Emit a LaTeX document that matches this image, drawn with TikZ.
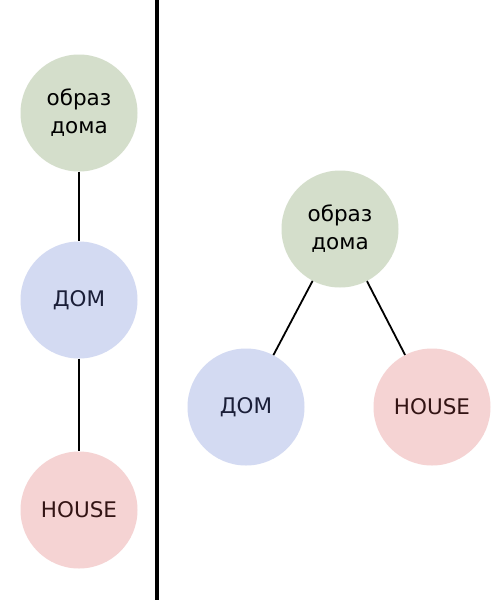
\documentclass[tikz,border=0pt]{standalone}
\usepackage{fontspec}
\setmainfont{DejaVu Sans}
\definecolor{cgreen}{HTML}{D4DECB}
\definecolor{cblue}{HTML}{D3DAF2}
\definecolor{cpink}{HTML}{F5D3D3}
\definecolor{tblue}{HTML}{1A1E38}
\definecolor{tred}{HTML}{331414}
\begin{document}
\begin{tikzpicture}[x=1pt,y=-1pt,
  bubble/.style={circle,minimum size=117pt,inner sep=0pt,align=center,
    font=\fontsize{21.5}{28}\selectfont},
  gbub/.style={bubble,fill=cgreen,text=black},
  bbub/.style={bubble,fill=cblue,text=tblue},
  pbub/.style={bubble,fill=cpink,text=tred},
  link/.style={line width=1.8pt,black}]
\useasboundingbox (0,0) rectangle (500,600);
\fill[white] (0,0) rectangle (500,600);
\coordinate (st) at (156.5,0);
\coordinate (sb) at (156.5,600);
\draw[line width=4pt] (st) -- (sb);
\node[gbub] (g1) at (79,113) {образ\\дома};
\node[bbub] (b1) at (79,300) {ДОМ};
\node[pbub] (p1) at (79,510) {HOUSE};
\draw[link] (g1) -- (b1);
\draw[link] (b1) -- (p1);
\node[gbub] (g2) at (340,229) {образ\\дома};
\node[bbub] (b2) at (246,407) {ДОМ};
\node[pbub] (p2) at (432,407) {HOUSE};
\draw[link] (g2) -- (b2);
\draw[link] (g2) -- (p2);
\end{tikzpicture}
\end{document}
